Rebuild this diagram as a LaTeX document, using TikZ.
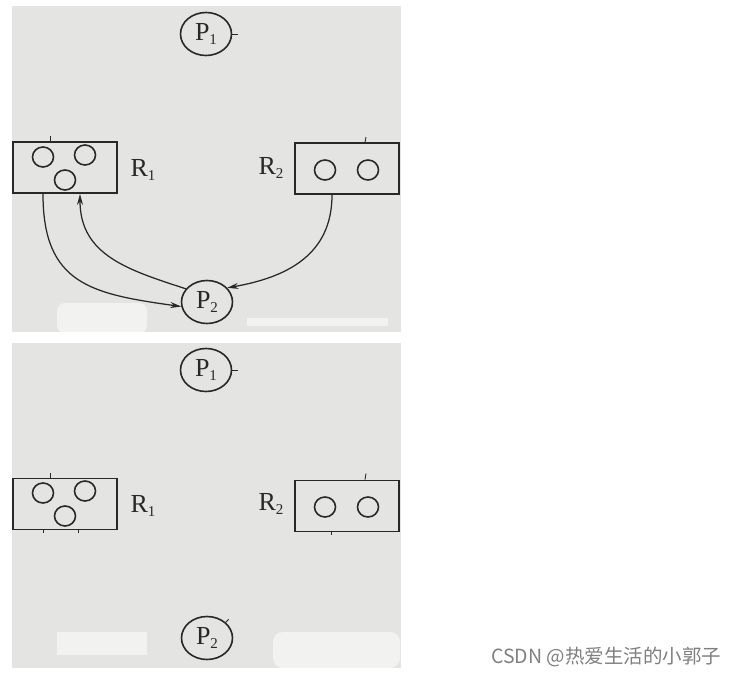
\documentclass[tikz,border=0pt]{standalone}
\usepackage{fontspec}
\setmainfont{Liberation Serif}
\newfontfamily\cjkfont{Noto Sans CJK SC}
\usetikzlibrary{arrows.meta,shapes.geometric}
\definecolor{panelgray}{RGB}{228,228,226}
\definecolor{ink}{RGB}{40,40,40}
\definecolor{wmgray}{RGB}{128,128,128}
\newcommand\sbx[2]{#1\raisebox{-4pt}{\fontsize{15}{15}\selectfont #2}}
\tikzset{
  panel/.style={fill=panelgray, draw=none},
  proc/.style={ellipse, draw=ink, line width=1.6pt, minimum width=51pt, minimum height=43pt, inner sep=0pt, font=\fontsize{26}{26}\selectfont, text=ink},
  resbox/.style={rectangle, draw=ink, line width=1.9pt, minimum width=104pt, minimum height=51pt, inner sep=0pt},
  unit/.style={ellipse, draw=ink, line width=1.6pt, minimum width=21pt, minimum height=20pt, inner sep=0pt},
  lab/.style={font=\fontsize{26}{26}\selectfont, text=ink, inner sep=0pt},
  edge/.style={draw=ink, line width=1.25pt},
  arr/.style={edge, -{Stealth[length=11pt,width=6pt]}},
  tick/.style={draw=ink, line width=0.9pt},
  patch/.style={fill=white, opacity=0.55, draw=none},
}
\begin{document}
\begin{tikzpicture}[x=1pt,y=-1pt]
\useasboundingbox (0,0) rectangle (736,677);
\fill[white] (0,0) rectangle (736,677);
% panels
\fill[panel] (12,6) rectangle (401,332);
\fill[panel] (12,343) rectangle (401,668);

% ---------- top panel ----------
\node[proc] (p1a) at (206,34) {\sbx{P}{1}};
\node[resbox] (r1a) at (65,167.5) {};
\node[resbox] (r2a) at (347,168.5) {};
\node[unit] (u1a) at (43,157) {};
\node[unit] (u2a) at (85,155) {};
\node[unit] (u3a) at (65,180) {};
\node[unit] (u4a) at (325,170) {};
\node[unit] (u5a) at (368,170) {};
\node[lab] (l1a) at (143,170) {\sbx{R}{1}};
\node[lab] (l2a) at (271,168) {\sbx{R}{2}};
\node[proc] (p2a) at (207,302) {\sbx{P}{2}};

\draw[arr] ([xshift=-22pt]r1a.south) to[out=-90,in=172,looseness=1.3] (p2a.190);
\draw[arr] (p2a.148) to[out=162,in=-90,looseness=1.1] ([xshift=15pt]r1a.south);
\draw[arr] ([xshift=-15pt]r2a.south) to[out=-90,in=10,looseness=1.1] (p2a.35);

\draw[tick] (p1a.east) -- ++(6,0);
\draw[tick] ([xshift=-15pt]r1a.north) -- ++(0,-5);
\draw[tick] ([xshift=18pt]r2a.north) -- ++(1,-5);

% ---------- bottom panel ----------
\node[proc] (p1b) at (206,370) {\sbx{P}{1}};
\node[resbox] (r1b) at (65,504) {};
\node[resbox] (r2b) at (347,506) {};
\node[unit] (u1b) at (43,493) {};
\node[unit] (u2b) at (85,491) {};
\node[unit] (u3b) at (65,516) {};
\node[unit] (u4b) at (325,507) {};
\node[unit] (u5b) at (368,507) {};
\node[lab] (l1b) at (143,506) {\sbx{R}{1}};
\node[lab] (l2b) at (271,504) {\sbx{R}{2}};
\node[proc] (p2b) at (207,638) {\sbx{P}{2}};

\draw[tick] (p1b.east) -- ++(6,0);
\draw[tick] ([xshift=-15pt]r1b.north) -- ++(0,-5);
\draw[tick] ([xshift=-22pt]r1b.south) -- ++(0,3);
\draw[tick] ([xshift=13pt]r1b.south) -- ++(0,3);
\draw[tick] ([xshift=18pt]r2b.north) -- ++(1,-6);
\draw[tick] ([xshift=-16pt]r2b.south) -- ++(0,3);
\draw[tick] (p2b.40) -- ++(3,-3);

% light watermark patches
\fill[patch, rounded corners=8pt] (57,303) rectangle (147,333);
\fill[patch] (247,318) rectangle (388,326);
\fill[patch] (57,632) rectangle (147,655);
\fill[patch, rounded corners=10pt] (273,632) rectangle (400,668);

% CSDN watermark
\node[anchor=west, inner sep=0pt, text=wmgray, font=\cjkfont\fontsize{19.5}{19.5}\selectfont] (wm) at (491,657) {CSDN @热爱生活的小郭子};
\end{tikzpicture}
\end{document}
